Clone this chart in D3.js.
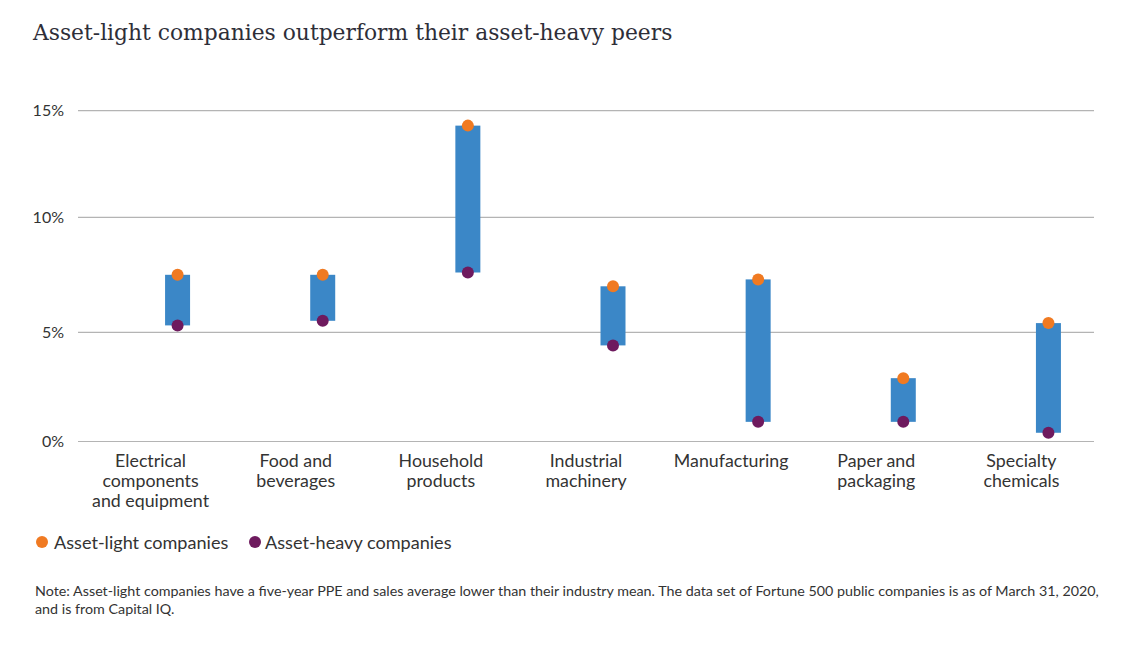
<!DOCTYPE html>
<html><head><meta charset="utf-8">
<script src="https://cdn.jsdelivr.net/npm/d3@7"></script>
<style>
body{margin:0;background:#fff;}
svg{display:block;}
</style></head>
<body>
<svg id="chart" width="1148" height="646"></svg>
<script>
const categories = [
  ["Electrical","components","and equipment"],
  ["Food and","beverages"],
  ["Household","products"],
  ["Industrial","machinery"],
  ["Manufacturing"],
  ["Paper and","packaging"],
  ["Specialty","chemicals"]
];
const assetLight = [7.5, 7.5, 14.3, 7.0, 7.3, 2.9, 5.4];
const assetHeavy = [5.3, 5.5, 7.6, 4.4, 0.9, 0.9, 0.4];
const yTicks = [0, 5, 10, 15];
const tickLabels = ["0%", "5%", "10%", "15%"];
const seriesNames = ["Asset-light companies", "Asset-heavy companies"];

const colLight = "#f07a22", colHeavy = "#6e1a5e", colBar = "#3b87c7";
const svg = d3.select("#chart");
const font = "Lato, 'Noto Sans', sans-serif";

svg.append("text").attr("x", 33).attr("y", 40)
  .attr("font-family", "Georgia, 'DejaVu Serif', serif").attr("font-size", 21.8)
  .attr("fill", "#2e2e38").text("Asset-light companies outperform their asset-heavy peers");

const x = d3.scaleBand().domain(d3.range(categories.length)).range([78, 1094]);
const y = d3.scaleLinear().domain(yTicks).range([441.5, 332.3, 217.3, 110.7]);
const barOffset = 27, barW = 25;

svg.append("g").selectAll("line").data(yTicks).join("line")
  .attr("x1", 78).attr("x2", 1094)
  .attr("y1", d => y(d)).attr("y2", d => y(d))
  .attr("stroke", "#b4b4b4").attr("stroke-width", 1.2);

svg.append("g").selectAll("text").data(yTicks).join("text")
  .attr("x", 64).attr("y", d => y(d) + 5.5)
  .attr("text-anchor", "end").attr("font-family", font).attr("font-size", 16)
  .attr("fill", "#333").text((d, i) => tickLabels[i]);

const g = svg.append("g");
const cx = i => x(i) + x.bandwidth() / 2;
g.selectAll("rect").data(d3.range(categories.length)).join("rect")
  .attr("x", i => cx(i) + barOffset - barW / 2).attr("width", barW)
  .attr("y", i => y(assetLight[i])).attr("height", i => y(assetHeavy[i]) - y(assetLight[i]))
  .attr("fill", colBar);
g.selectAll("circle.l").data(d3.range(categories.length)).join("circle").attr("class", "l")
  .attr("cx", i => cx(i) + barOffset).attr("cy", i => y(assetLight[i])).attr("r", 6).attr("fill", colLight);
g.selectAll("circle.h").data(d3.range(categories.length)).join("circle").attr("class", "h")
  .attr("cx", i => cx(i) + barOffset).attr("cy", i => y(assetHeavy[i])).attr("r", 6).attr("fill", colHeavy);

const labG = svg.append("g");
categories.forEach((lines, i) => {
  labG.selectAll(null).data(lines).join("text")
    .attr("x", cx(i)).attr("y", (d, j) => 467 + j * 20)
    .attr("text-anchor", "middle").attr("font-family", font).attr("font-size", 17.8)
    .attr("fill", "#333").text(d => d);
});

const leg = svg.append("g");
const legX = [[42, 54], [255, 265]];
[colLight, colHeavy].forEach((c, i) => {
  leg.append("circle").attr("cx", legX[i][0]).attr("cy", 542).attr("r", 6).attr("fill", c);
  leg.append("text").attr("x", legX[i][1]).attr("y", 549).attr("font-family", font)
    .attr("font-size", 18.1).attr("fill", "#333").text(seriesNames[i]);
});

const note = ["Note: Asset-light companies have a five-year PPE and sales average lower than their industry mean. The data set of Fortune 500 public companies is as of March 31, 2020,",
  "and is from Capital IQ."];
svg.append("g").selectAll("text").data(note).join("text")
  .attr("x", 35).attr("y", (d, i) => 596 + i * 18).attr("font-family", font)
  .attr("font-size", 14.3).attr("fill", "#333").text(d => d);
</script>
</body></html>
